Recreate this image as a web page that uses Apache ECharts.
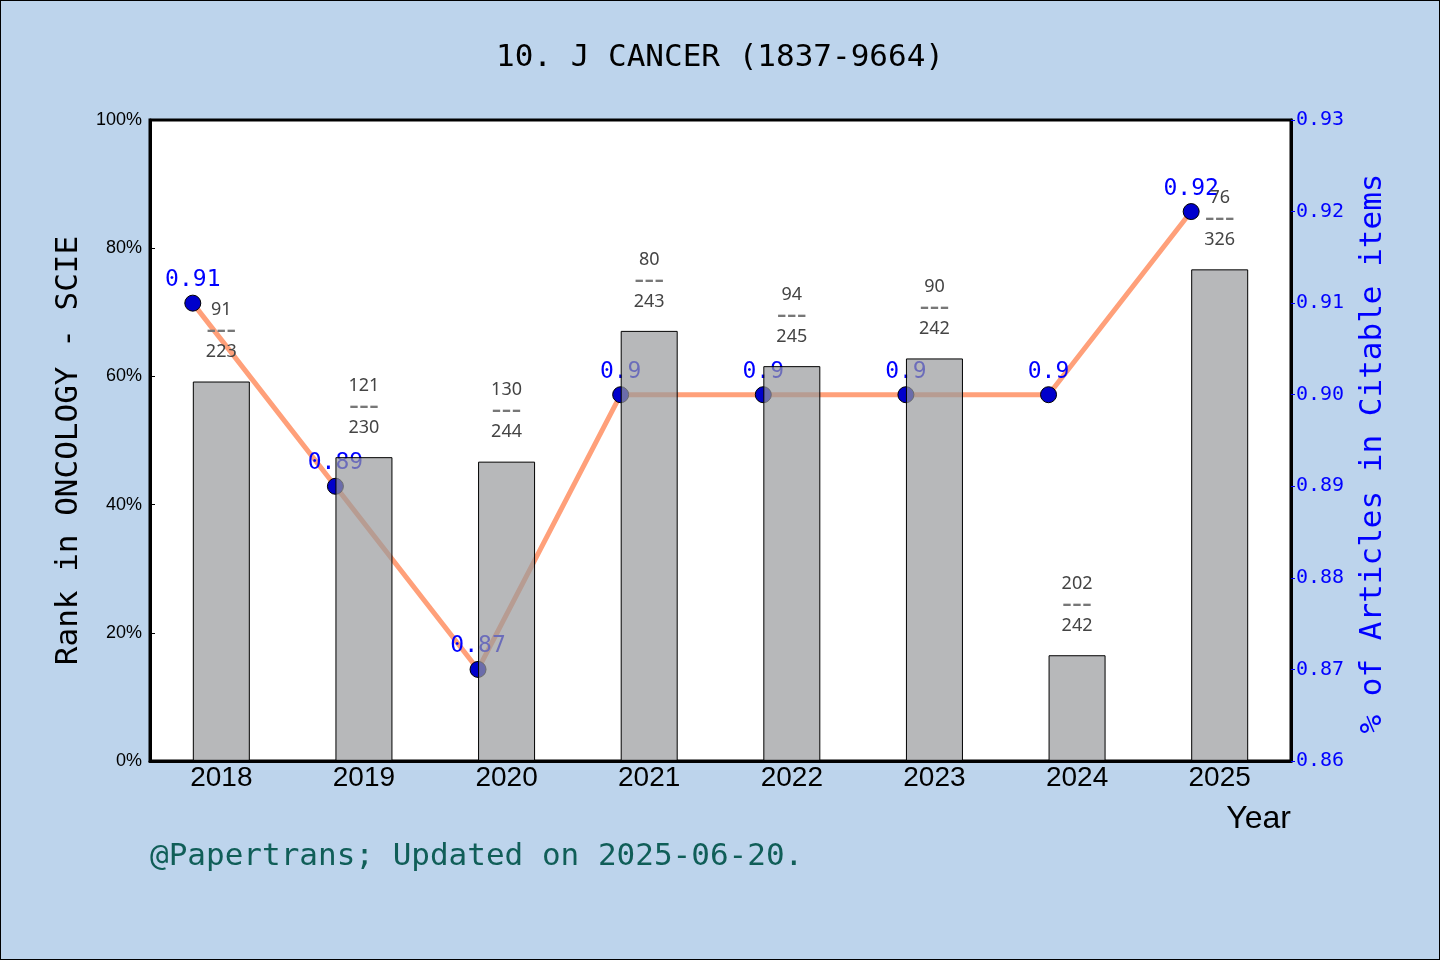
<!DOCTYPE html>
<html>
<head>
<meta charset="utf-8">
<script src="https://cdn.jsdelivr.net/npm/echarts@6/dist/echarts.min.js"></script>
<style>
html,body{margin:0;padding:0;background:#BDD4EC;}
#wrap{position:relative;width:1440px;height:960px;}
#chart{position:absolute;left:0;top:0;width:1440px;height:960px;}
#frame{position:absolute;left:0;top:0;width:1440px;height:960px;box-sizing:border-box;border:1px solid #000;pointer-events:none;}
</style>
</head>
<body>
<div id="wrap"><div id="chart"></div><div id="frame"></div></div>
<script>
// ---- data ----
const years = ['2018','2019','2020','2021','2022','2023','2024','2025'];
const rankPercent = [59.2, 47.4, 46.7, 67.1, 61.6, 62.8, 16.5, 76.7];
const ranks = [91, 121, 130, 80, 94, 90, 202, 76];
const totals = [223, 230, 244, 243, 245, 242, 242, 326];
const citableShare = [0.91, 0.89, 0.87, 0.90, 0.90, 0.90, 0.90, 0.92];
const leftTicks = {min: 0, max: 100, interval: 20};
const rightTicks = {min: 0.86, max: 0.93, interval: 0.01};
const titleText = '10. J CANCER (1837-9664)';
const footerText = '@Papertrans; Updated on 2025-06-20.';

const MONO = '"DejaVu Sans Mono", "Liberation Mono", monospace';
const SANS = '"Liberation Sans", Arial, sans-serif';
const lineOffset = -0.2; // line points sit at left edge of bars

const chart = echarts.init(document.getElementById('chart'), null, {renderer: 'canvas'});
const option = {
  animation: false,
  backgroundColor: '#BDD4EC',
  title: {
    text: titleText, left: 'center', top: 37,
    textStyle: {fontFamily: MONO, fontSize: 31, fontWeight: 'normal', color: '#000'}
  },
  grid: {left: 150, right: 149, top: 120, bottom: 199, show: true,
    backgroundColor: '#fff', borderColor: '#000', borderWidth: 3},
  graphic: [{
    type: 'text', left: 150, top: 841,
    style: {text: footerText, font: '31px ' + MONO, fill: '#105E58'}
  }],
  xAxis: [{
    type: 'category', data: years, position: 'bottom',
    axisLine: {lineStyle: {color: '#000', width: 3}},
    axisTick: {inside: true, length: 6, lineStyle: {color: '#000', width: 1}},
    axisLabel: {fontFamily: SANS, fontSize: 28, color: '#000', margin: 3},
    name: 'Year', nameLocation: 'end', nameGap: 0,
    nameTextStyle: {fontFamily: SANS, fontSize: 32, color: '#000', align: 'right', verticalAlign: 'top', padding: [42, 0, 0, 0]},
    splitLine: {show: false}
  }, {
    type: 'value', min: -0.5, max: 7.5, show: false
  }],
  yAxis: [{
    type: 'value', position: 'left', min: leftTicks.min, max: leftTicks.max, interval: leftTicks.interval,
    axisLine: {show: true, onZero: false, lineStyle: {color: '#000', width: 3}},
    axisTick: {show: true, inside: true, length: 5, lineStyle: {color: '#000'}},
    axisLabel: {formatter: '{value}%', fontFamily: '"Liberation Sans Narrow", ' + SANS, fontSize: 18, color: '#000', margin: 8},
    splitLine: {show: false},
    name: 'Rank in ONCOLOGY - SCIE', nameLocation: 'middle', nameGap: 66,
    nameTextStyle: {fontFamily: MONO, fontSize: 31, color: '#000', padding: [0, 20, 0, 0]}
  }, {
    type: 'value', position: 'right', min: rightTicks.min, max: rightTicks.max, interval: rightTicks.interval,
    axisLine: {show: true, onZero: false, lineStyle: {color: '#000', width: 3}},
    axisTick: {show: true, inside: false, length: 4, lineStyle: {color: '#0000FF'}},
    axisLabel: {formatter: v => v.toFixed(2), fontFamily: MONO, fontSize: 20, color: '#0000FF', margin: 5},
    splitLine: {show: false},
    name: '% of Articles in Citable items', nameLocation: 'middle', nameGap: 66, nameRotate: 90,
    nameTextStyle: {fontFamily: MONO, fontSize: 31, color: '#0000FF', padding: [0, 26, 0, 0]}
  }],
  series: [{
    type: 'line', xAxisIndex: 1, yAxisIndex: 1, z: 2,
    data: citableShare.map((v, i) => [i + lineOffset, v]),
    lineStyle: {color: '#FFA07A', width: 5},
    symbol: 'circle', symbolSize: 16,
    itemStyle: {color: '#0000CC', borderColor: '#000', borderWidth: 1},
    label: {show: true, position: 'top', distance: 3, formatter: p => String(p.value[1]),
      fontFamily: MONO, fontSize: 23, color: '#0000FF'}
  }, {
    type: 'bar', xAxisIndex: 0, yAxisIndex: 0, z: 3,
    data: rankPercent, barWidth: 57,
    itemStyle: {color: 'rgba(153,154,157,0.7)', borderColor: '#000', borderWidth: 1},
    label: {show: true, position: 'top', distance: 19,
      formatter: p => '{n|' + ranks[p.dataIndex] + '}\n{d|---}\n{n|' + totals[p.dataIndex] + '}',
      rich: {
        n: {fontFamily: '"Noto Sans", ' + SANS, fontSize: 18, color: '#444', lineHeight: 21, align: 'center'},
        d: {fontFamily: SANS, fontSize: 30, color: '#777', lineHeight: 21, align: 'center'}
      }}
  }]
};
chart.setOption(option);
</script>
</body>
</html>
